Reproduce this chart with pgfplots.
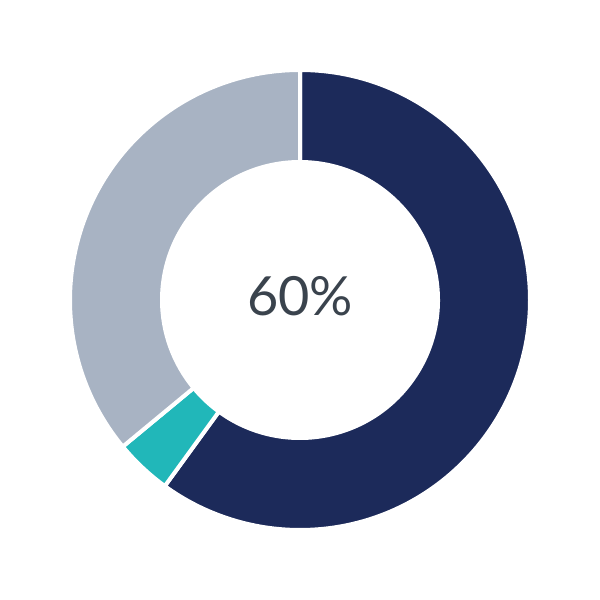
\documentclass[border=0pt]{standalone}
\usepackage{pgfplots}
\pgfplotsset{compat=1.18}
\usepackage{pgfplotstable}
\usepackage{fontspec}
\setmainfont{Lato}
\definecolor{navy}{HTML}{1C2A5A}
\definecolor{teal}{HTML}{21B7B9}
\definecolor{grayb}{HTML}{A8B3C3}
\definecolor{txt}{HTML}{3A434D}
\pgfplotstableread{
share
60
4
36
}\donut
\begin{document}
\begin{tikzpicture}
\pgfplotstablegetelem{0}{share}\of\donut \let\vA\pgfplotsretval
\pgfplotstablegetelem{1}{share}\of\donut \let\vB\pgfplotsretval
\pgfplotstablegetelem{2}{share}\of\donut \let\vC\pgfplotsretval
\pgfmathsetmacro\aA{90}
\pgfmathsetmacro\aB{90-3.6*\vA}
\pgfmathsetmacro\aC{\aB-3.6*\vB}
\pgfmathsetmacro\aD{\aC-3.6*\vC}
\def\Ro{230}\def\Ri{138}
\begin{axis}[x=0.5pt,y=0.5pt,scale only axis,
  xmin=-300,xmax=300,ymin=-300,ymax=300,hide axis,
  clip=false]
\path (axis cs:-300,-300) rectangle (axis cs:300,300);
\fill[navy, draw=white, line width=2pt, line join=miter]
  (axis cs:{\Ro*cos(\aA)},{\Ro*sin(\aA)}) arc[start angle=\aA, end angle=\aB, radius=115pt]
  -- (axis cs:{\Ri*cos(\aB)},{\Ri*sin(\aB)}) arc[start angle=\aB, end angle=\aA, radius=69pt] -- cycle;
\fill[teal, draw=white, line width=2pt, line join=miter]
  (axis cs:{\Ro*cos(\aB)},{\Ro*sin(\aB)}) arc[start angle=\aB, end angle=\aC, radius=115pt]
  -- (axis cs:{\Ri*cos(\aC)},{\Ri*sin(\aC)}) arc[start angle=\aC, end angle=\aB, radius=69pt] -- cycle;
\fill[grayb, draw=white, line width=2pt, line join=miter]
  (axis cs:{\Ro*cos(\aC)},{\Ro*sin(\aC)}) arc[start angle=\aC, end angle=\aD, radius=115pt]
  -- (axis cs:{\Ri*cos(\aD)},{\Ri*sin(\aD)}) arc[start angle=\aD, end angle=\aC, radius=69pt] -- cycle;
\node[text=txt, font=\fontsize{27}{30}\selectfont, inner sep=0pt] at (axis cs:0,4) {60\%};
\end{axis}
\end{tikzpicture}
\end{document}
